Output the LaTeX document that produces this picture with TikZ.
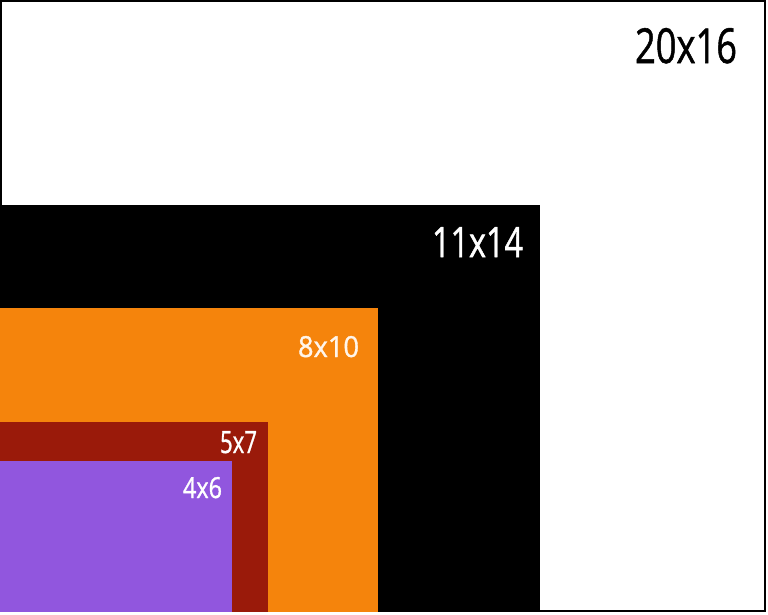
\documentclass[tikz,border=0pt]{standalone}
\usepackage{fontspec}
\setmainfont{Open Sans}
\newfontfamily\labelfont[FakeBold=1.2]{Open Sans}
\usepackage{graphicx}
\definecolor{frameorange}{HTML}{F5840C}
\definecolor{framered}{HTML}{9A1A0A}
\definecolor{framepurple}{HTML}{9156DE}
\tikzset{
  sizebox/.style={inner sep=0pt, outer sep=0pt, anchor=north east},
}
\newcommand{\sizelabel}[3]{\resizebox{#1pt}{#2pt}{\labelfont\fontsize{40}{40}\selectfont #3}}
\begin{document}
\begin{tikzpicture}[x=1pt,y=-1pt]
\useasboundingbox (0,0) rectangle (768,614);
\fill[white] (0,0) rectangle (768,614);
\draw[black, line width=2pt] (1,1) rectangle (765,611);
\fill[black] (0,205) rectangle (540,612);
\fill[frameorange] (0,308) rectangle (378,612);
\fill[framered] (0,422) rectangle (268,612);
\fill[framepurple] (0,461) rectangle (232,612);
\node[sizebox, text=black] (l20) at (737,28) {\sizelabel{102}{35}{20x16}};
\node[sizebox, text=white] (l11) at (523,227) {\sizelabel{91}{30}{11x14}};
\node[sizebox, text=white!92!orange] (l8) at (359,336) {\sizelabel{61}{21}{8x10}};
\node[sizebox, text=white] (l5) at (257,431) {\sizelabel{37}{22}{5x7}};
\node[sizebox, text=white] (l4) at (222,477) {\sizelabel{39}{21}{4x6}};
\end{tikzpicture}
\end{document}
